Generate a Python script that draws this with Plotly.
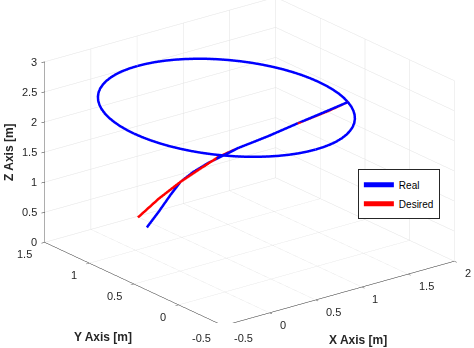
import plotly.graph_objects as go

# ---- data (metres) ----
# Desired trajectory: climb segment, then circle (radius 1 about (0.5, 0.5) at z = 2.5)
des_climb_x = [0.056, 0.264, 0.453, 0.592, 0.739, 0.844, 0.982, 1.134, 1.275, 1.406]
des_climb_y = [1.031, 1.013, 0.965, 0.908, 0.838, 0.725, 0.534, 0.358, 0.171, 0.077]
des_climb_z = [0.50, 0.735, 0.967, 1.146, 1.345, 1.527, 1.796, 2.068, 2.336, 2.50]

circle_x = [1.406, 1.440, 1.466, 1.485, 1.496, 1.500, 1.496, 1.485, 1.466, 1.440,
            1.406, 1.366, 1.319, 1.266, 1.207, 1.143, 1.074, 1.000, 0.923, 0.842,
            0.759, 0.674, 0.587, 0.500, 0.413, 0.326, 0.241, 0.158, 0.077, 0.000,
            -0.074, -0.143, -0.207, -0.266, -0.319, -0.366, -0.406, -0.440, -0.466, -0.485,
            -0.496, -0.500, -0.496, -0.485, -0.466, -0.440, -0.406, -0.366, -0.319, -0.266,
            -0.207, -0.143, -0.074, 0.000, 0.077, 0.158, 0.241, 0.326, 0.413, 0.500,
            0.587, 0.674, 0.759, 0.842, 0.923, 1.000, 1.074, 1.143, 1.207, 1.266,
            1.319, 1.366, 1.406]
circle_y = [0.077, 0.158, 0.241, 0.326, 0.413, 0.500, 0.587, 0.674, 0.759, 0.842,
            0.923, 1.000, 1.074, 1.143, 1.207, 1.266, 1.319, 1.366, 1.406, 1.440,
            1.466, 1.485, 1.496, 1.500, 1.496, 1.485, 1.466, 1.440, 1.406, 1.366,
            1.319, 1.266, 1.207, 1.143, 1.074, 1.000, 0.923, 0.842, 0.759, 0.674,
            0.587, 0.500, 0.413, 0.326, 0.241, 0.158, 0.077, 0.000, -0.074, -0.143,
            -0.207, -0.266, -0.319, -0.366, -0.406, -0.440, -0.466, -0.485, -0.496, -0.500,
            -0.496, -0.485, -0.466, -0.440, -0.406, -0.366, -0.319, -0.266, -0.207, -0.143,
            -0.074, 0.000, 0.077]
circle_z = [2.5] * 73

# Real trajectory: climb segment (starts off the desired path), then tracks the path
real_climb_x = [0.015, 0.174, 0.343, 0.473, 0.581, 0.680, 0.789, 0.844, 0.982, 1.134, 1.275, 1.406]
real_climb_y = [0.889, 0.920, 0.962, 0.986, 0.953, 0.889, 0.779, 0.725, 0.534, 0.358, 0.171, 0.077]
real_climb_z = [0.45, 0.623, 0.802, 0.944, 1.086, 1.237, 1.43, 1.527, 1.796, 2.068, 2.345, 2.50]

x_ticks = [-0.5, 0, 0.5, 1, 1.5, 2]
y_ticks = [-0.5, 0, 0.5, 1, 1.5]
z_ticks = [0, 0.5, 1, 1.5, 2, 2.5, 3]

des_x = des_climb_x + circle_x[1:]
des_y = des_climb_y + circle_y[1:]
des_z = des_climb_z + circle_z[1:]
real_x = real_climb_x + circle_x[1:]
real_y = real_climb_y + circle_y[1:]
real_z = real_climb_z + circle_z[1:]

FONT = "Liberation Sans, Arial, Helvetica, sans-serif"
AX = "#262626"
XMIN, XMAX = -0.5, 2
YMIN, YMAX = -0.5, 1.5
ZMIN, ZMAX = 0, 3

fig = go.Figure()
fig.add_trace(go.Scatter3d(x=des_x, y=des_y, z=des_z, mode="lines", name="Desired",
                           line=dict(color="#ff0000", width=5)))
fig.add_trace(go.Scatter3d(x=real_x, y=real_y, z=real_z, mode="lines", name="Real",
                           line=dict(color="#0000ff", width=5)))


def axis(rng, ticks):
    return dict(range=rng, tickvals=ticks, showticklabels=False,
                autorange=False, showbackground=False, showgrid=True,
                gridcolor="#e2e2e2", gridwidth=1, showline=True, linecolor=AX,
                linewidth=1, ticks="outside", ticklen=4, tickcolor=AX,
                zeroline=False, showspikes=False, title=dict(text=""))


tick_font = dict(family=FONT, size=11, color=AX)
scene_ann = []
for t in x_ticks:
    scene_ann.append(dict(x=t, y=YMIN, z=ZMIN, text=f"{t:g}", showarrow=False,
                          xanchor="left", yanchor="middle", xshift=8, yshift=-12, font=tick_font))
for t in y_ticks:
    scene_ann.append(dict(x=XMIN, y=t, z=ZMIN, text=f"{t:g}", showarrow=False,
                          xanchor="right", yanchor="middle", xshift=-11, yshift=-12, font=tick_font))
for t in z_ticks:
    scene_ann.append(dict(x=XMIN, y=YMAX, z=t, text=f"{t:g}", showarrow=False,
                          xanchor="right", yanchor="middle", xshift=-6, yshift=0, font=tick_font))

k = 3.0
f = 1.808
title_font = dict(family=FONT, size=12, color=AX)
fig.update_layout(
    width=474, height=348, margin=dict(l=0, r=0, t=0, b=0),
    paper_bgcolor="white", plot_bgcolor="white",
    font=dict(family=FONT, size=11, color=AX),
    scene=dict(
        xaxis=axis([XMIN, XMAX], x_ticks),
        yaxis=axis([YMIN, YMAX], y_ticks),
        zaxis=axis([ZMIN, ZMAX], z_ticks),
        aspectmode="manual", aspectratio=dict(x=1 * f, y=1 * f, z=0.663 * f),
        camera=dict(projection=dict(type="orthographic"),
                    eye=dict(x=-0.570 * k, y=-0.737 * k, z=0.361 * k),
                    up=dict(x=0, y=0, z=1), center=dict(x=0, y=0, z=0)),
        domain=dict(x=[0.058, 0.997], y=[0.072, 1.0]),
        annotations=scene_ann,
    ),
    showlegend=True,
    legend=dict(x=0.755, y=0.514, xanchor="left", yanchor="top", traceorder="reversed",
                bgcolor="white", bordercolor=AX, borderwidth=1, tracegroupgap=0,
                font=dict(family=FONT, size=10, color="#000000")),
    annotations=[
        dict(text="<b>X Axis [m]</b>", x=358 / 474, y=1 - 340 / 348, xref="paper", yref="paper",
             xanchor="center", yanchor="middle", showarrow=False, font=title_font),
        dict(text="<b>Y Axis [m]</b>", x=103 / 474, y=1 - 337 / 348, xref="paper", yref="paper",
             xanchor="center", yanchor="middle", showarrow=False, font=title_font),
        dict(text="<b>Z Axis [m]</b>", x=9 / 474, y=1 - 152 / 348, xref="paper", yref="paper",
             xanchor="center", yanchor="middle", showarrow=False, textangle=-90, font=title_font),
    ],
)

fig.write_html("out.html")
